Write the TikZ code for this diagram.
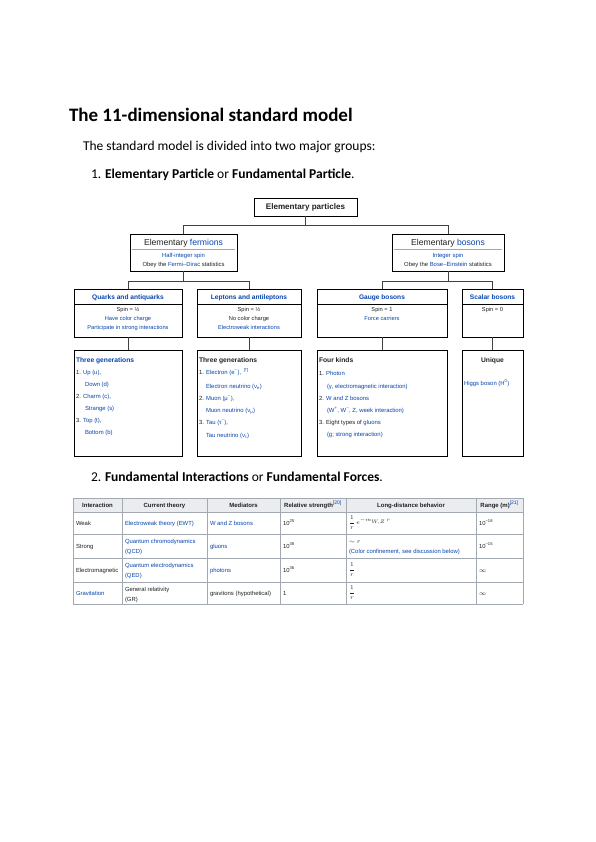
\documentclass[tikz,border=0pt]{standalone}
\usepackage{fontspec}
\setmainfont{Carlito}
\newfontfamily\wiki{Liberation Sans}
\usetikzlibrary{calc}
\definecolor{wlink}{HTML}{0645AD}
\definecolor{wtext}{HTML}{202122}
\definecolor{wgrid}{HTML}{A2A9B1}
\definecolor{whead}{HTML}{EAECF0}
\newcommand{\halfspin}{½}
\begin{document}
\begin{tikzpicture}[x=1pt,y=-1pt,
  every node/.style={inner sep=0pt, outer sep=0pt},
  box/.style={draw=black, line width=1pt, fill=white, anchor=north west},
  conn/.style={draw=black!75, line width=0.6pt},
  sepg/.style={draw=black!35, line width=0.5pt},
  sepk/.style={draw=black, line width=0.6pt},
  gridl/.style={draw=wgrid, line width=0.5pt},
  f5/.style={font=\wiki\fontsize{5.7}{6.5}\selectfont, text=wtext},
  f59/.style={font=\wiki\fontsize{5.9}{6.5}\selectfont, text=wtext},
  f55/.style={font=\wiki\fontsize{5.9}{7}\selectfont, text=wtext},
  g3h/.style={font=\wiki\bfseries\fontsize{6.7}{8}\selectfont, text=wtext},
  hd/.style={font=\wiki\bfseries\fontsize{6.6}{7.5}\selectfont, text=wlink},
  big/.style={font=\wiki\fontsize{8.6}{9}\selectfont, text=wtext},
  tb/.style={font=\wiki\fontsize{5.9}{7}\selectfont, text=wtext},
  tbh/.style={font=\wiki\bfseries\fontsize{6}{7}\selectfont, text=wtext},
  body/.style={font=\fontsize{13.5}{16}\selectfont, text=black},
]
\fill[white] (0,0) rectangle (595,842);
\useasboundingbox (0,0) rectangle (595,842);

% ---------- headings ----------
\node[anchor=base west, font=\bfseries\fontsize{19}{22}\selectfont] (title) at (69,122) {The 11-dimensional standard model};
\node[body, anchor=base west] (intro) at (83,150.5) {The standard model is divided into two major groups:};
\node[body, anchor=base west] (n1) at (91,178.5) {1.};
\node[body, anchor=base west] (item1) at (105,178.5) {\textbf{Elementary Particle} or \textbf{Fundamental Particle}.};
\node[body, anchor=base west] (n2) at (91,481.5) {2.};
\node[body, anchor=base west] (item2) at (105,481.5) {\textbf{Fundamental Interactions} or \textbf{Fundamental Forces}.};

% ---------- tree boxes ----------
\node[box, line width=0.8pt, minimum width=103pt, minimum height=18pt, font=\wiki\bfseries\fontsize{8.1}{9}\selectfont, text=wtext] (top) at (254,198) {Elementary particles};

\node[box, minimum width=107pt, minimum height=37pt] (ferm) at (130,234) {};
\node[box, minimum width=112pt, minimum height=37pt] (bos) at (392,234) {};

\node[box, minimum width=108pt, minimum height=48pt] (a2) at (74,289) {};
\node[box, minimum width=104pt, minimum height=48pt] (b2) at (197,289) {};
\node[box, minimum width=130pt, minimum height=48pt] (c2) at (317,289) {};
\node[box, minimum width=61pt, minimum height=48pt] (d2) at (462,289) {};

\node[box, minimum width=108pt, minimum height=106pt] (a3) at (74,350) {};
\node[box, minimum width=104pt, minimum height=106pt] (b3) at (197,350) {};
\node[box, minimum width=130pt, minimum height=106pt] (c3) at (317,350) {};
\node[box, minimum width=61pt, minimum height=106pt] (d3) at (462,350) {};

% ---------- connectors ----------
\coordinate (j0) at ($(top.south)+(0,9)$);
\draw[conn] (top.south) -- (j0);
\draw[conn] (j0) -| (ferm.north);
\draw[conn] (j0) -| (bos.north);
\coordinate (j1) at ($(ferm.south)+(0,10)$);
\draw[conn] (ferm.south) -- (j1);
\draw[conn] (j1) -| (a2.north);
\draw[conn] (j1) -| (b2.north);
\coordinate (j2) at ($(bos.south)+(0,10)$);
\draw[conn] (bos.south) -- (j2);
\draw[conn] (j2) -| (c2.north);
\draw[conn] (j2) -| (d2.north);
\draw[conn] (a2.south) -- (a3.north);
\draw[conn] (b2.south) -- (b3.north);
\draw[conn] (c2.south) -- (c3.north);
\draw[conn] (d2.south) -- (d3.north);

% ---------- row 1 text ----------
\node[big, anchor=base] (fermh) at (183.5,245) {Elementary \textcolor{wlink}{fermions}};
\draw[sepg] (132,249.5) -- (235,249.5);
\node[f59, anchor=base] (ferm1) at (183.5,257.5) {\textcolor{wlink}{Half-integer spin}};
\node[f59, anchor=base] (ferm2) at (183.5,266.5) {Obey the \textcolor{wlink}{Fermi–Dirac} statistics};

\node[big, anchor=base] (bosh) at (448,245) {Elementary \textcolor{wlink}{bosons}};
\draw[sepg] (394,249.5) -- (502,249.5);
\node[f59, anchor=base] (bos1) at (448,257.5) {\textcolor{wlink}{Integer spin}};
\node[f59, anchor=base] (bos2) at (448,266.5) {Obey the \textcolor{wlink}{Bose–Einstein} statistics};

% ---------- row 2 text ----------
\node[hd, anchor=base] (a2h) at (128,299.5) {Quarks and antiquarks};
\draw[sepk] (74,304) -- (182,304);
\node[f5, anchor=base] (a2l1) at (128,311.5) {Spin = \halfspin};
\node[f5, anchor=base] (a2l2) at (128,320.5) {\textcolor{wlink}{Have color charge}};
\node[f5, anchor=base] (a2l3) at (128,329) {\textcolor{wlink}{Participate in strong interactions}};

\node[hd, anchor=base] (b2h) at (249,299.5) {Leptons and antileptons};
\draw[sepk] (197,304) -- (301,304);
\node[f5, anchor=base] (b2l1) at (249,311.5) {Spin = \halfspin};
\node[f5, anchor=base] (b2l2) at (249,320.5) {No color charge};
\node[f5, anchor=base] (b2l3) at (249,329) {\textcolor{wlink}{Electroweak interactions}};

\node[hd, anchor=base] (c2h) at (382,299.5) {Gauge bosons};
\draw[sepk] (317,304) -- (447,304);
\node[f5, anchor=base] (c2l1) at (382,311.5) {Spin = 1};
\node[f5, anchor=base] (c2l2) at (382,320.5) {\textcolor{wlink}{Force carriers}};

\node[hd, anchor=base] (d2h) at (492.5,299.5) {Scalar bosons};
\draw[sepk] (462,304) -- (523,304);
\node[f5, anchor=base] (d2l1) at (492.5,311.5) {Spin = 0};

% ---------- row 3 text ----------
\node[g3h, anchor=base west, text=wlink] (a3h) at (76,362) {Three generations};
\node[f55, anchor=base west] (a3l1) at (76,374) {1. \textcolor{wlink}{Up (u)},};
\node[f55, anchor=base west] (a3l2) at (85,386.5) {\textcolor{wlink}{Down (d)}};
\node[f55, anchor=base west] (a3l3) at (76,398.5) {2. \textcolor{wlink}{Charm (c)},};
\node[f55, anchor=base west] (a3l4) at (85,410.5) {\textcolor{wlink}{Strange (s)}};
\node[f55, anchor=base west] (a3l5) at (76,422) {3. \textcolor{wlink}{Top (t)},};
\node[f55, anchor=base west] (a3l6) at (85,434) {\textcolor{wlink}{Bottom (b)}};

\node[g3h, anchor=base west] (b3h) at (199,362) {Three generations};
\node[f55, anchor=base west] (b3l1) at (199,374) {1. \textcolor{wlink}{Electron (e\textsuperscript{\char"2212}),\ \,\textsuperscript{[†]}}};
\node[f55, anchor=base west] (b3l2) at (206,388) {\textcolor{wlink}{Electron neutrino (ν\textsubscript{e})}};
\node[f55, anchor=base west] (b3l3) at (199,400) {2. \textcolor{wlink}{Muon (μ\textsuperscript{\char"2212}),}};
\node[f55, anchor=base west] (b3l4) at (206,412.5) {\textcolor{wlink}{Muon neutrino (ν\textsubscript{μ})}};
\node[f55, anchor=base west] (b3l5) at (199,424.5) {3. \textcolor{wlink}{Tau (τ\textsuperscript{\char"2212}),}};
\node[f55, anchor=base west] (b3l6) at (206,437) {\textcolor{wlink}{Tau neutrino (ν\textsubscript{τ})}};

\node[g3h, anchor=base west] (c3h) at (319,362) {Four kinds};
\node[f55, anchor=base west] (c3l1) at (319,375) {1. \textcolor{wlink}{Photon}};
\node[f55, anchor=base west] (c3l2) at (327,388) {\textcolor{wlink}{(γ, electromagnetic interaction)}};
\node[f55, anchor=base west] (c3l3) at (319,400) {2. \textcolor{wlink}{W and Z bosons}};
\node[f55, anchor=base west] (c3l4) at (327,412) {\textcolor{wlink}{(W\textsuperscript{+}, W\textsuperscript{\char"2212}, Z, week interaction)}};
\node[f55, anchor=base west] (c3l5) at (319,424) {3. Eight types of \textcolor{wlink}{gluons}};
\node[f55, anchor=base west] (c3l6) at (327,436) {\textcolor{wlink}{(g; strong interaction)}};

\node[g3h, anchor=base] (d3h) at (492.5,362) {Unique};
\node[f55, anchor=base west] (d3l1) at (464,385) {\textcolor{wlink}{Higgs boson (H\textsuperscript{0})}};

% ---------- table ----------
\fill[whead] (73,498) rectangle (523,512);
\foreach \yy in {498,512,534,558,582,604} \draw[gridl] (73,\yy) -- (523,\yy);
\foreach \xx in {73,122,207,280,346,476,523} \draw[gridl] (\xx,498) -- (\xx,604);

\node[tbh, anchor=base] (h1) at (97.5,507.5) {Interaction};
\node[tbh, anchor=base] (h2) at (164.5,507.5) {Current theory};
\node[tbh, anchor=base] (h3) at (243.5,507.5) {Mediators};
\node[tbh, anchor=base] (h4) at (313,507.5) {Relative strength\textsuperscript{\mdseries\textcolor{wlink}{[20]}}};
\node[tbh, anchor=base] (h5) at (411,507.5) {Long-distance behavior};
\node[tbh, anchor=base] (h6) at (499.5,507.5) {Range (m)\textsuperscript{\mdseries\textcolor{wlink}{[21]}}};

% Weak
\node[tb, anchor=base west] (w1) at (76,525) {Weak};
\node[tb, anchor=base west] (w2) at (125,525) {\textcolor{wlink}{Electroweak theory (EWT)}};
\node[tb, anchor=base west] (w3) at (210,525) {\textcolor{wlink}{W and Z bosons}};
\node[tb, anchor=base west] (w4) at (283,525) {10\textsuperscript{25}};
\node[tb, anchor=west] (w5) at (349,523) {$\displaystyle\frac{1}{r}\,e^{-m_{W,Z}\,r}$};
\node[tb, anchor=base west] (w6) at (479,525) {10\textsuperscript{\char"2212 18}};

% Strong
\node[tb, anchor=base west] (s1) at (76,548) {Strong};
\node[tb, anchor=base west] (s2a) at (125,543) {\textcolor{wlink}{Quantum chromodynamics}};
\node[tb, anchor=base west] (s2b) at (125,553) {\textcolor{wlink}{(QCD)}};
\node[tb, anchor=base west] (s3) at (210,548) {\textcolor{wlink}{gluons}};
\node[tb, anchor=base west] (s4) at (283,548) {10\textsuperscript{38}};
\node[tb, anchor=base west] (s5a) at (349,543) {$\sim r$};
\node[tb, anchor=base west] (s5b) at (349,553) {\textcolor{wlink}{(Color confinement, see discussion below)}};
\node[tb, anchor=base west] (s6) at (479,548) {10\textsuperscript{\char"2212 15}};

% Electromagnetic
\node[tb, anchor=base west] (e1) at (76,572) {Electromagnetic};
\node[tb, anchor=base west] (e2a) at (125,567) {\textcolor{wlink}{Quantum electrodynamics}};
\node[tb, anchor=base west] (e2b) at (125,577) {\textcolor{wlink}{(QED)}};
\node[tb, anchor=base west] (e3) at (210,572) {\textcolor{wlink}{photons}};
\node[tb, anchor=base west] (e4) at (283,572) {10\textsuperscript{36}};
\node[tb, anchor=west] (e5) at (349,570) {$\displaystyle\frac{1}{r}$};
\node[tb, anchor=base west] (e6) at (479,572) {$\infty$};

% Gravitation
\node[tb, anchor=base west] (g1) at (76,595) {\textcolor{wlink}{Gravitation}};
\node[tb, anchor=base west] (g2a) at (125,591) {General relativity};
\node[tb, anchor=base west] (g2b) at (125,601) {(GR)};
\node[tb, anchor=base west] (g3) at (210,595) {gravitons (hypothetical)};
\node[tb, anchor=base west] (g4) at (283,595) {1};
\node[tb, anchor=west] (g5) at (349,593) {$\displaystyle\frac{1}{r}$};
\node[tb, anchor=base west] (g6) at (479,595) {$\infty$};
\end{tikzpicture}
\end{document}
